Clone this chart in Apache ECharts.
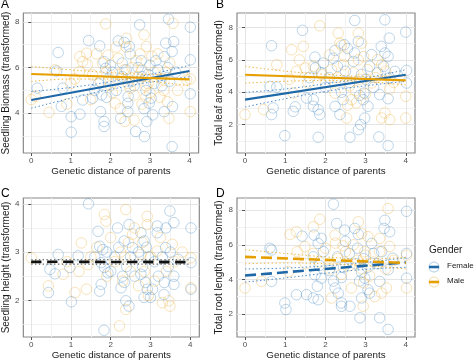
<!DOCTYPE html>
<html>
<head>
<meta charset="utf-8">
<script src="https://cdn.jsdelivr.net/npm/echarts@6.0.0/dist/echarts.min.js"></script>
<style>
html,body{margin:0;padding:0;background:#fff;}
#chart{width:474px;height:361px;}
</style>
</head>
<body>
<div id="chart"></div>
<script>
// ---------------- DATA ----------------
const xTicks = [0, 1, 2, 3, 4];
const yTicksA = [4, 6, 8];
const yTicksB = [2, 4, 6, 8];
const yTicksC = [2, 3, 4];
const yTicksD = [2, 4, 6, 8];
const genders = ['Female', 'Male'];
const xTitle = 'Genetic distance of parents';
const yTitles = ['Seedling Biomass (transformed)', 'Total leaf area (transformed)', 'Seedling height (transformed)', 'Total root length (transformed)'];
const panelLetters = ['A', 'B', 'C', 'D'];

const fitX = [0, 4];
const bandX = [0, 1, 2, 3, 4];

// Panel A
const femaleA = [[0.15,5.1],[0.64,5.85],[0.68,6.66],[0.8,5.1],[0.76,4.3],[1.01,3.85],[1.01,3.17],[1.23,3.96],[1.3,4.58],[1.45,7.18],[1.55,4.66],[1.73,6.95],[1.75,4.07],[1.84,3.64],[1.84,3.42],[1.84,6.26],[1.88,5.97],[1.7,5.3],[1.78,4.8],[1.9,4.7],[1.95,5.5],[2.0,6.1],[2.05,5.8],[2.2,7.17],[2.26,3.78],[2.3,6.2],[2.35,7.1],[2.4,5.9],[2.44,4.07],[2.44,4.44],[2.45,4.73],[2.48,6.92],[2.5,6.6],[2.55,5.4],[2.6,5.2],[2.64,3.2],[2.7,6.0],[2.74,7.87],[2.78,6.3],[2.8,5.6],[2.86,2.98],[2.9,5.0],[2.92,3.64],[2.95,5.7],[2.98,4.44],[3.03,4.66],[3.07,3.93],[3.1,5.3],[3.15,6.3],[3.2,5.9],[3.3,5.2],[3.36,4.07],[3.36,6.48],[3.4,7.07],[3.45,6.0],[3.47,8.12],[3.5,5.4],[3.56,6.7],[3.56,2.54],[3.57,4.29],[3.6,7.14],[3.65,5.8],[4.02,7.77],[4.02,6.34],[4.02,4.85],[2.15,5.0],[2.3,5.6],[1.6,5.0],[3.0,6.1],[2.85,4.2]];
const maleA = [[0.0,4.6],[0.1,4.73],[0.45,4.04],[0.6,5.9],[1.0,5.3],[1.22,5.83],[1.23,6.48],[1.3,6.26],[1.4,6.63],[1.42,6.12],[1.55,5.68],[1.5,4.6],[1.88,7.91],[1.94,6.55],[1.8,6.2],[2.0,5.2],[2.05,4.9],[2.12,4.44],[2.2,6.4],[2.3,5.5],[2.37,3.64],[2.41,7.28],[2.5,5.1],[2.55,6.0],[2.6,4.8],[2.7,5.6],[2.75,6.6],[2.8,4.4],[2.85,7.43],[2.91,6.92],[2.95,5.3],[3.0,4.9],[3.1,5.8],[3.2,6.6],[3.3,5.5],[3.44,4.51],[3.48,3.78],[3.5,6.2],[3.58,7.94],[3.7,5.0],[3.93,5.46],[4.02,4.07],[4.02,5.5],[2.6,3.7],[2.25,4.2],[1.75,5.4],[2.9,5.2],[3.35,5.0],[2.4,6.9],[1.1,5.5],[0.9,4.4],[2.15,6.9],[2.45,5.3],[2.65,6.3],[2.8,5.9],[3.05,6.5],[3.25,4.7],[1.9,5.8],[2.35,5.9],[2.9,4.7],[3.4,5.8],[1.65,6.6],[2.2,5.7]];
const fitFemaleA = [4.58, 5.85];
const fitMaleA = [5.72, 5.48];
const upFemaleA = [4.95, 5.13, 5.38, 5.70, 6.10];
const loFemaleA = [4.22, 4.66, 5.04, 5.36, 5.60];
const upMaleA = [6.05, 5.90, 5.78, 5.70, 5.78];
const loMaleA = [5.39, 5.50, 5.50, 5.40, 5.20];

// Panel B
const femaleB = [[2.73,8.43],[3.48,8.47],[4.0,7.71],[1.43,7.82],[0.66,6.87],[1.74,6.17],[1.95,5.8],[2.24,6.58],[2.47,6.93],[2.73,6.42],[2.82,7.14],[3.15,6.32],[3.39,6.83],[3.59,7.34],[3.48,6.42],[3.56,6.21],[4.02,5.35],[4.02,4.57],[0.62,4.36],[0.79,4.32],[0.66,2.62],[0.7,3.03],[0.99,1.32],[1.2,2.82],[1.25,3.1],[1.53,3.64],[1.7,3.54],[1.7,3.13],[1.82,2.92],[1.86,2.62],[1.82,1.22],[2.24,3.13],[2.36,2.62],[2.44,3.54],[2.61,1.22],[2.82,1.69],[2.88,2.0],[2.96,3.95],[2.94,3.54],[3.06,3.13],[2.98,2.41],[3.33,1.24],[3.56,0.71],[3.56,3.6],[3.35,3.85],[3.73,5.29],[1.9,5.2],[2.1,4.9],[2.3,5.6],[2.5,5.3],[2.6,4.6],[2.7,5.9],[2.9,5.1],[3.0,4.8],[3.1,5.6],[3.2,4.3],[3.3,5.2],[2.4,4.0],[2.0,4.3],[1.75,5.5],[2.85,3.8],[3.45,5.6],[3.6,4.9],[2.2,6.1],[1.6,4.9],[2.55,6.7]];
const maleB = [[0.0,2.62],[0.46,2.93],[0.79,5.7],[1.16,6.62],[1.45,6.83],[1.86,8.1],[2.32,7.65],[2.36,7.03],[2.82,7.65],[2.9,7.03],[2.48,6.21],[2.82,6.0],[1.28,5.29],[1.57,4.57],[1.2,3.95],[2.24,3.95],[2.65,3.54],[2.53,2.41],[2.77,3.34],[3.4,2.41],[3.48,2.72],[3.6,2.31],[4.0,3.75],[4.0,2.41],[3.15,4.57],[3.4,5.7],[1.7,5.6],[1.9,5.1],[2.0,4.6],[2.15,5.4],[2.3,4.9],[2.45,5.7],[2.6,4.4],[2.7,5.2],[2.85,4.8],[2.95,6.2],[3.05,5.4],[3.25,4.9],[3.3,6.0],[3.5,5.3],[3.7,4.6],[2.1,6.3],[1.5,5.5],[1.1,4.8],[2.55,3.2],[3.0,3.9],[2.4,6.9],[1.35,6.0],[2.75,4.1],[3.6,4.2]];
const fitFemaleB = [3.54, 5.08];
const fitMaleB = [5.08, 4.73];
const upFemaleB = [3.99, 4.20, 4.52, 4.88, 5.39];
const loFemaleB = [3.09, 3.60, 4.05, 4.40, 4.67];
const upMaleB = [5.60, 5.30, 5.10, 4.98, 5.00];
const loMaleB = [4.56, 4.68, 4.72, 4.66, 4.45];

// Panel C
const femaleC = [[1.44,4.0],[1.83,1.38],[1.01,1.97],[0.43,2.16],[0.6,2.55],[0.47,2.64],[0.68,2.95],[1.18,2.92],[0.97,2.68],[1.68,3.43],[1.72,3.12],[1.76,2.78],[1.72,2.19],[1.76,2.33],[1.84,2.68],[1.93,2.57],[2.17,3.5],[2.34,3.23],[2.46,3.57],[2.55,3.09],[2.34,2.37],[2.38,1.99],[2.46,1.88],[2.26,2.26],[2.76,3.4],[2.84,3.23],[2.76,2.54],[2.88,2.37],[2.92,2.23],[2.84,2.06],[3.0,2.06],[3.05,2.23],[3.17,3.54],[3.17,3.4],[3.39,3.5],[3.49,3.85],[3.59,3.61],[3.38,3.09],[3.35,2.37],[3.59,2.33],[3.59,2.5],[3.34,2.12],[4.02,3.5],[4.02,2.78],[4.02,2.23],[1.9,3.0],[2.0,2.6],[2.1,2.9],[2.2,3.1],[2.4,2.7],[2.5,2.9],[2.6,2.5],[2.7,3.0],[2.8,2.7],[2.9,3.1],[3.1,2.8],[3.2,2.5],[3.3,2.9],[3.45,2.7],[3.5,3.0],[1.6,2.9],[2.3,2.5],[2.95,2.9],[3.7,2.85],[1.8,3.05]];
const maleC = [[0.0,2.88],[0.43,2.3],[0.8,2.54],[1.1,2.16],[1.26,3.19],[1.39,2.23],[1.43,2.74],[1.84,3.78],[1.88,3.64],[2.22,1.47],[2.38,3.88],[2.38,1.81],[2.55,3.37],[2.76,2.95],[2.92,3.74],[2.92,3.57],[3.17,3.02],[3.46,1.99],[3.49,1.88],[3.55,3.16],[4.02,2.88],[4.02,2.26],[0.9,2.8],[1.2,2.6],[1.5,2.9],[1.65,3.1],[1.9,2.5],[2.0,3.3],[2.1,2.8],[2.25,3.0],[2.3,2.4],[2.45,3.2],[2.5,2.6],[2.6,3.5],[2.7,2.3],[2.8,3.2],[2.85,2.6],[3.0,2.9],[3.1,2.4],[3.25,3.3],[3.4,2.6],[3.6,2.8],[3.8,3.0],[2.35,2.9],[2.95,2.1],[3.3,1.95]];
const fitFemaleC = [2.80, 2.79];
const fitMaleC = [2.79, 2.80];
const upC = [2.84, 2.84, 2.84, 2.84, 2.84];
const loC = [2.75, 2.75, 2.75, 2.75, 2.75];

// Panel D
const femaleD = [[2.2,8.35],[4.02,7.94],[3.48,7.42],[3.46,6.95],[3.6,6.75],[3.15,6.08],[2.28,7.23],[2.48,6.85],[2.73,6.95],[2.82,6.6],[1.42,6.5],[1.72,6.56],[1.9,6.37],[1.82,6.08],[0.62,5.8],[0.66,5.7],[0.66,3.88],[0.99,2.63],[1.02,2.25],[1.28,3.11],[1.53,3.11],[1.7,2.92],[1.82,2.82],[1.74,4.26],[1.9,4.07],[2.24,3.5],[2.32,3.2],[2.4,2.63],[2.4,2.44],[2.61,2.44],[2.86,1.77],[2.9,2.92],[3.06,3.4],[2.98,4.07],[3.35,1.77],[3.56,1.1],[3.35,3.88],[3.56,4.55],[4.02,4.07],[4.02,5.5],[3.68,5.22],[3.4,5.6],[1.7,5.3],[1.85,4.8],[1.95,5.6],[2.1,4.5],[2.3,5.3],[2.45,4.7],[2.5,6.2],[2.6,5.5],[2.75,4.9],[2.8,5.8],[2.9,4.4],[2.95,5.2],[3.05,4.7],[3.2,5.5],[3.3,4.9],[2.4,4.1],[2.85,3.9],[3.1,3.2],[2.2,3.9],[1.8,3.6]];
const maleD = [[0.0,3.5],[0.41,3.88],[1.12,6.6],[1.28,6.75],[1.49,5.89],[1.7,7.04],[1.86,7.48],[2.24,6.56],[2.44,5.94],[2.82,7.33],[2.9,6.65],[2.98,5.6],[3.06,6.47],[3.56,8.1],[3.35,6.37],[2.15,2.92],[2.65,3.5],[2.94,2.44],[3.23,3.0],[3.4,3.2],[3.52,3.5],[4.02,3.5],[4.02,5.4],[1.08,4.45],[1.7,5.5],[1.85,5.0],[2.0,5.8],[2.1,4.6],[2.3,5.2],[2.4,4.3],[2.5,5.6],[2.6,4.8],[2.7,6.0],[2.8,5.1],[2.9,4.6],[3.0,5.4],[3.1,4.2],[3.2,5.0],[3.35,5.6],[3.5,4.6],[3.7,5.1],[2.25,6.1],[1.5,4.9],[1.3,5.6],[2.95,3.8],[3.6,5.9]];
const fitFemaleD = [4.22, 4.98];
const fitMaleD = [5.30, 4.95];
const upFemaleD = [4.60, 4.65, 4.78, 4.98, 5.25];
const loFemaleD = [3.84, 4.08, 4.35, 4.58, 4.70];
const upMaleD = [5.72, 5.50, 5.30, 5.17, 5.28];
const loMaleD = [4.90, 4.95, 4.90, 4.80, 4.60];

// ---------------- LAYOUT / STYLE ----------------
const FONT = 'Liberation Sans, Arial, sans-serif';
const BLUE = '#1f68a8', ORANGE = '#E69F00';
const BLUE_PT = 'rgba(52,126,190,0.40)', ORANGE_PT = 'rgba(232,165,30,0.38)';
const BLUE_CI = '#4a8ccc', ORANGE_CI = '#ebb440';

const grids = [
  {left: 19.2, top: 13, width: 179.4, height: 140},
  {left: 237, top: 13, width: 178, height: 140},
  {left: 21.3, top: 198, width: 178, height: 140},
  {left: 237, top: 198, width: 178, height: 140}
];
const xRange = [-0.2, 4.23];
const yRanges = [[2.26, 8.39], [0.25, 8.89], [1.24, 4.12], [0.66, 8.71]];
const ySplit = [3, 4, 3, 4];
const yTickSets = [yTicksA, yTicksB, yTicksC, yTicksD];

const xAxes = grids.map((g, i) => ({
  type: 'value', gridIndex: i, min: xRange[0], max: xRange[1], splitNumber: 4,
  name: xTitle, nameLocation: 'middle', nameGap: 13,
  nameTextStyle: {fontSize: 9.8, color: '#1a1a1a', fontFamily: FONT},
  axisLine: {show: false},
  axisTick: {show: true, length: 3, lineStyle: {color: '#555', width: 1}, customValues: xTicks},
  axisLabel: {fontSize: 8, color: '#4d4d4d', margin: 4, fontFamily: FONT, customValues: xTicks, formatter: v => String(v)},
  splitLine: {show: true, lineStyle: {color: '#e4e4e4', width: 1}},
  minorTick: {show: false, splitNumber: 2},
  minorSplitLine: {show: true, lineStyle: {color: '#f2f2f2', width: 1}}
}));
const yAxes = grids.map((g, i) => ({
  type: 'value', gridIndex: i, min: yRanges[i][0], max: yRanges[i][1], splitNumber: ySplit[i],
  name: yTitles[i], nameLocation: 'middle', nameGap: 9,
  nameTextStyle: {fontSize: 10, color: '#1a1a1a', fontFamily: FONT},
  axisLine: {show: false},
  axisTick: {show: true, length: 3, lineStyle: {color: '#555', width: 1}, customValues: yTickSets[i]},
  axisLabel: {fontSize: 8, color: '#4d4d4d', margin: 4, fontFamily: FONT, customValues: yTickSets[i], formatter: v => String(v)},
  splitLine: {show: true, lineStyle: {color: '#e4e4e4', width: 1}},
  minorTick: {show: false, splitNumber: 2},
  minorSplitLine: {show: true, lineStyle: {color: '#f2f2f2', width: 1}}
}));

function scatter(i, data, color, name) {
  return {type: 'scatter', name, xAxisIndex: i, yAxisIndex: i, data, symbol: 'circle', symbolSize: 10.5,
    itemStyle: {color: 'rgba(0,0,0,0)', borderColor: color, borderWidth: 1}, silent: true, z: 2};
}
function line(i, xs, ys, color, width, type, z) {
  return {type: 'line', xAxisIndex: i, yAxisIndex: i, data: xs.map((x, k) => [x, ys[k]]),
    symbol: 'none', smooth: xs.length > 2 ? 0.4 : false, silent: true, z: z || 4,
    lineStyle: {color, width, type, cap: 'butt'}};
}
const dot = [1.4, 2.4];
const series = [
  // A
  scatter(0, femaleA, BLUE_PT, 'Female'), scatter(0, maleA, ORANGE_PT, 'Male'),
  line(0, bandX, upFemaleA, BLUE_CI, 1, dot, 3), line(0, bandX, loFemaleA, BLUE_CI, 1, dot, 3),
  line(0, bandX, upMaleA, ORANGE_CI, 1, dot, 3), line(0, bandX, loMaleA, ORANGE_CI, 1, dot, 3),
  line(0, fitX, fitFemaleA, BLUE, 2.2, 'solid'), line(0, fitX, fitMaleA, ORANGE, 2.2, 'solid'),
  // B
  scatter(1, femaleB, BLUE_PT, 'Female'), scatter(1, maleB, ORANGE_PT, 'Male'),
  line(1, bandX, upFemaleB, BLUE_CI, 1, dot, 3), line(1, bandX, loFemaleB, BLUE_CI, 1, dot, 3),
  line(1, bandX, upMaleB, ORANGE_CI, 1, dot, 3), line(1, bandX, loMaleB, ORANGE_CI, 1, dot, 3),
  line(1, fitX, fitFemaleB, BLUE, 2.2, 'solid'), line(1, fitX, fitMaleB, ORANGE, 2.2, 'solid'),
  // C
  scatter(2, femaleC, BLUE_PT, 'Female'), scatter(2, maleC, ORANGE_PT, 'Male'),
  line(2, bandX, upC, '#444', 1, dot, 3), line(2, bandX, loC, '#444', 1, dot, 3),
  line(2, fitX, fitFemaleC, '#111', 2.6, [10, 6]), line(2, fitX, fitMaleC, '#111', 2.0, [10, 6]),
  // D
  scatter(3, femaleD, BLUE_PT, 'Female'), scatter(3, maleD, ORANGE_PT, 'Male'),
  line(3, bandX, upFemaleD, BLUE_CI, 1, dot, 3), line(3, bandX, loFemaleD, BLUE_CI, 1, dot, 3),
  line(3, bandX, upMaleD, ORANGE_CI, 1, dot, 3), line(3, bandX, loMaleD, ORANGE_CI, 1, dot, 3),
  line(3, fitX, fitFemaleD, BLUE, 2.6, [11, 5]), line(3, fitX, fitMaleD, ORANGE, 2.6, [11, 5])
];

const letterPos = [[1, -1], [216, -1], [1, 188], [216, 188]];
const graphic = panelLetters.map((t, i) => ({
  type: 'text', left: letterPos[i][0], top: letterPos[i][1],
  style: {text: t, fontSize: 12, fill: '#000', fontFamily: FONT}
}));
graphic.push({type: 'text', left: 429, top: 245, style: {text: 'Gender', fontSize: 10, fill: '#1a1a1a', fontFamily: FONT}});
const keyY = [267, 282];
const keyCol = [[BLUE, BLUE_PT], [ORANGE, ORANGE_PT]];
genders.forEach((g, k) => {
  graphic.push({type: 'circle', shape: {cx: 434, cy: keyY[k], r: 5}, style: {fill: 'none', stroke: keyCol[k][1], lineWidth: 1}});
  graphic.push({type: 'line', shape: {x1: 429, y1: keyY[k], x2: 439, y2: keyY[k]}, style: {stroke: keyCol[k][0], lineWidth: 2.6}});
  graphic.push({type: 'text', left: 447, top: keyY[k] - 5, style: {text: g, fontSize: 8, fill: '#1a1a1a', fontFamily: FONT}});
});

const chart = echarts.init(document.getElementById('chart'), null, {renderer: 'canvas'});
chart.setOption({
  animation: false,
  backgroundColor: '#fff',
  grid: grids.map(g => Object.assign({show: true, borderColor: '#8a8a8a', borderWidth: 1.2, backgroundColor: 'rgba(0,0,0,0)', containLabel: false}, g)),
  xAxis: xAxes,
  yAxis: yAxes,
  series,
  graphic
});
</script>
</body>
</html>
